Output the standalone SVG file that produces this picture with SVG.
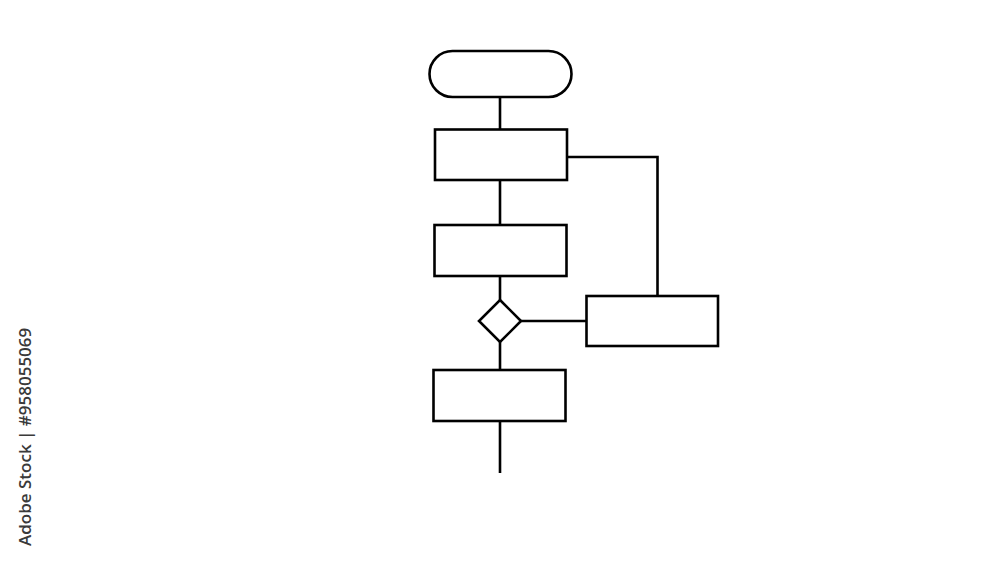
<svg xmlns="http://www.w3.org/2000/svg" width="1000" height="562" viewBox="0 0 1000 562">
<style>
.s{fill:#fff;stroke:#000;stroke-width:2.6}
.c{fill:none;stroke:#000;stroke-width:2.6}
.wm{font-family:"Open Sans","Noto Sans",sans-serif;font-size:17px;font-weight:600;fill:#3a3a3a}
</style>
<rect width="1000" height="562" fill="#fff"/>
<g id="connectors">
<line class="c" x1="500" y1="97" x2="500" y2="129"/>
<line class="c" x1="500" y1="180" x2="500" y2="225"/>
<polyline class="c" points="567,157 657.5,157 657.5,296"/>
<line class="c" x1="500" y1="276" x2="500" y2="300"/>
<line class="c" x1="520" y1="321" x2="586" y2="321"/>
<line class="c" x1="500" y1="342" x2="500" y2="370"/>
<line class="c" x1="500" y1="421" x2="500" y2="473"/>
</g>
<g id="start"><rect class="s" x="429.5" y="51" width="142" height="46" rx="23"/></g>
<g id="process1"><rect class="s" x="435" y="129.5" width="132" height="50.5"/></g>
<g id="process2"><rect class="s" x="434.5" y="225" width="132" height="51"/></g>
<g id="decision"><polygon class="s" points="500,300 521,321 500,342 479,321"/></g>
<g id="process3"><rect class="s" x="586.5" y="296" width="131.5" height="50"/></g>
<g id="process4"><rect class="s" x="433.5" y="370" width="132" height="51"/></g>
<text class="wm" transform="translate(31,546) rotate(-90)">Adobe Stock | #958055069</text>
</svg>
